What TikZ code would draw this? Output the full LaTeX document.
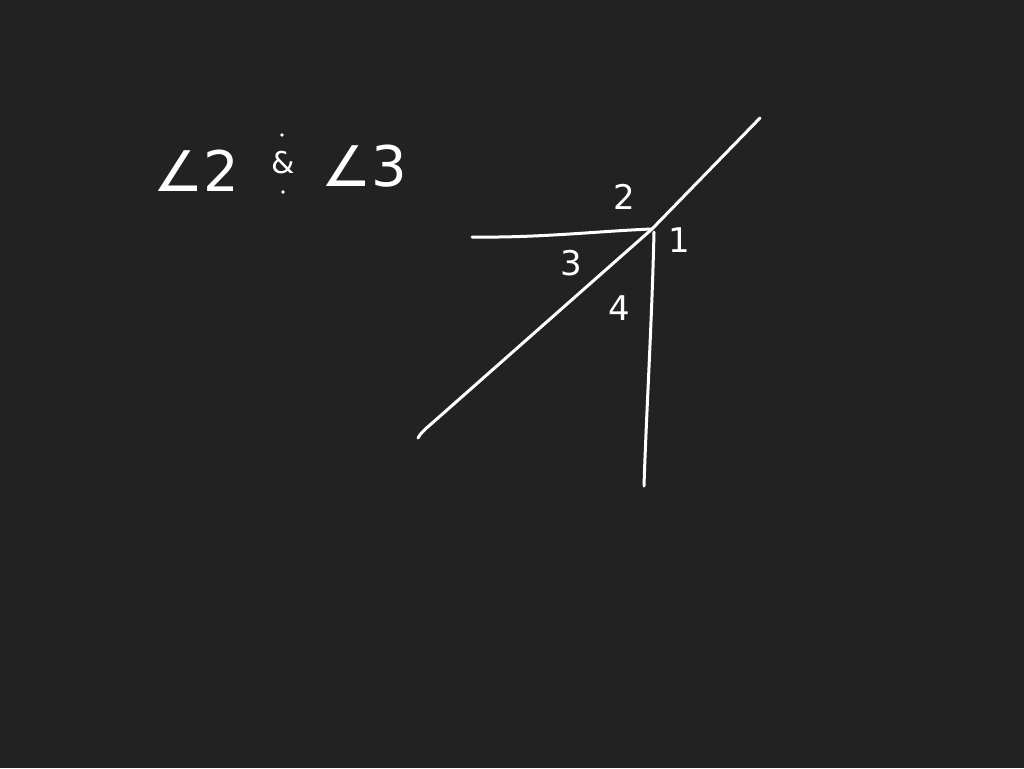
\documentclass[tikz,border=0pt]{standalone}
\usepackage{fontspec}
\setmainfont{DejaVu Sans}
\definecolor{bg}{HTML}{222222}
\begin{document}
\begin{tikzpicture}[x=1pt,y=-1pt,
  chalk/.style={draw=white,line width=3pt,line cap=round,line join=round},
  lbl/.style={text=white,inner sep=0pt,font=\fontsize{34}{34}\selectfont},
  big/.style={text=white,inner sep=0pt,font=\fontsize{56}{56}\selectfont}]
\fill[bg] (0,0) rectangle (1024,768);
\useasboundingbox (0,0) rectangle (1024,768);
% vertex
\coordinate (V) at (652,229);
\coordinate (Dtop) at (760,118);
\coordinate (Dbot) at (418,438);
\coordinate (Hl) at (472,237);
\coordinate (Vb) at (644,486);
\draw[chalk] (Dtop) -- (V) -- (430,425) .. controls (424,430) and (420,434) .. (Dbot);
\draw[chalk] (Hl) .. controls (540,238) and (600,231) .. (V);
\draw[chalk] (654,232) .. controls (652,320) and (646,420) .. (Vb);
\node[lbl] (n2) at (624,197) {2};
\node[lbl] (n1) at (679,240) {1};
\node[lbl] (n3) at (571,263) {3};
\node[lbl] (n4) at (619,308) {4};
\node[big] (t1) at (196,171) {∠2};
\node[text=white,inner sep=0pt,font=\fontsize{30}{30}\selectfont] (amp) at (283,163) {\&};
\fill[white] (282,135) circle (1.8);
\fill[white] (283,192) circle (1.8);
\node[big] (t2) at (364,166) {∠3};
\end{tikzpicture}
\end{document}
